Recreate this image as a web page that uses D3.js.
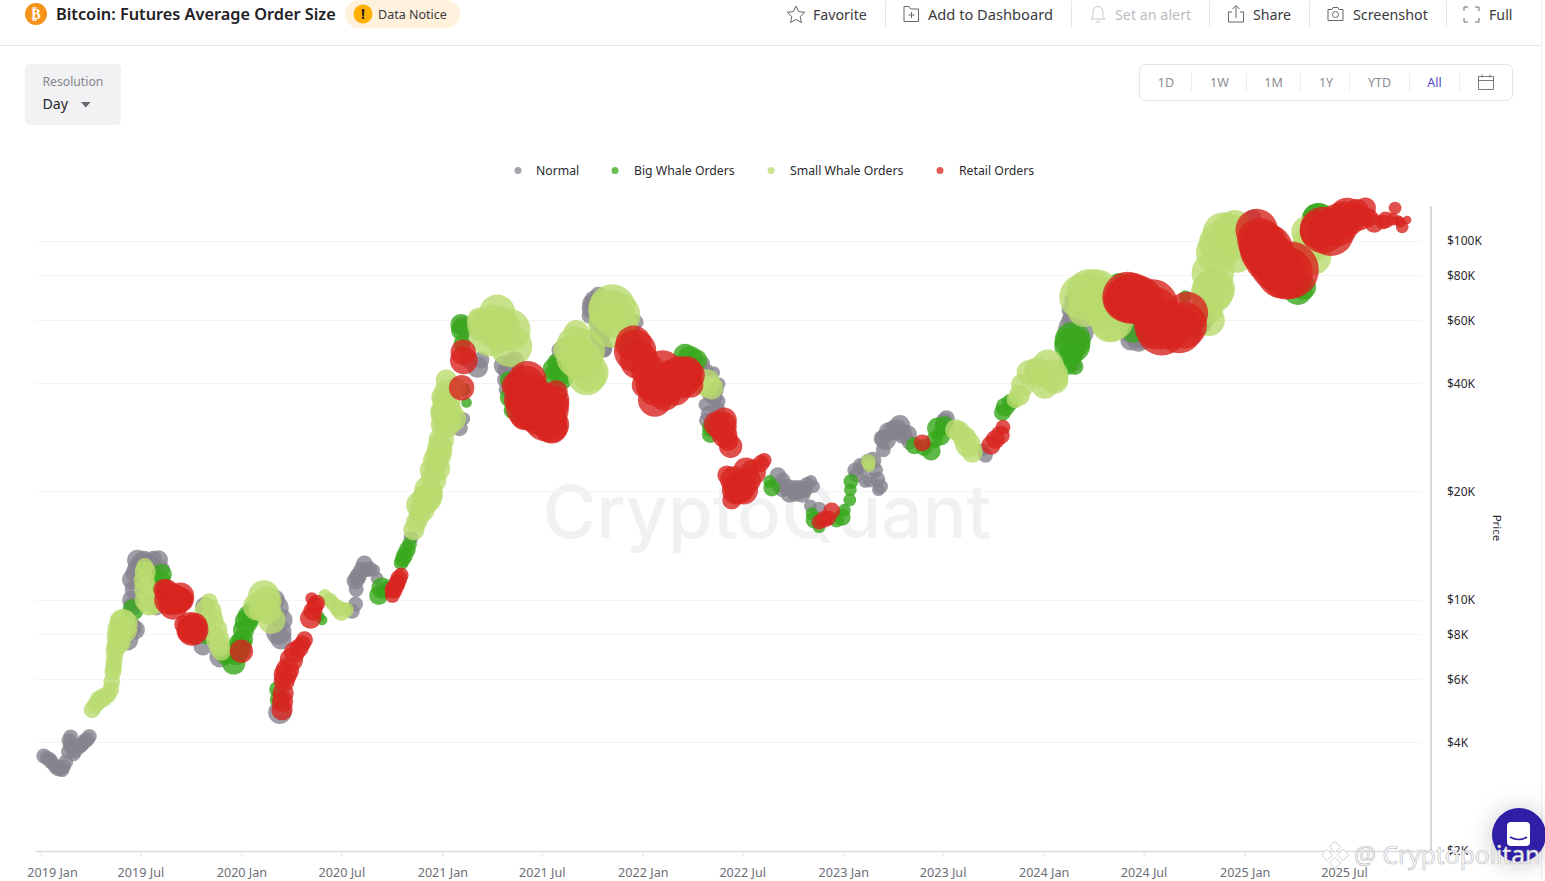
<!DOCTYPE html>
<html>
<head>
<meta charset="utf-8">
<title>Bitcoin: Futures Average Order Size</title>
<script src="https://cdn.jsdelivr.net/npm/d3@7"></script>
<style>
  html, body { margin: 0; padding: 0; background: #fff; overflow: hidden; }
  svg { display: block; font-family: "Noto Sans", sans-serif; }
</style>
</head>
<body>
<div id="chart"></div>
<script>
// rows are [date, price in USD, average order size]
var normalOrders = [
  ["2019-01-06",3680,70],["2019-01-12",3630,70],["2019-01-17",3590,70],["2019-01-20",3540,70],["2019-01-27",3440,70],["2019-02-01",3390,70],["2019-02-05",3400,70],["2019-02-08",3370,70],["2019-02-11",3440,70],["2019-02-15",3540,70],
  ["2019-02-20",3780,70],["2019-02-21",4060,70],["2019-02-23",3950,70],["2019-02-24",4160,70],["2019-02-26",3900,70],["2019-03-01",3730,70],["2019-03-04",3800,70],["2019-03-12",3900,70],["2019-03-15",3950,70],["2019-03-19",4000,70],["2019-03-22",4060,70],["2019-03-26",4080,70],["2019-03-30",4170,70],
  ["2019-06-08",7750,100],["2019-06-14",8380,100],["2019-06-15",10000,90],["2019-06-17",11400,100],["2019-06-18",9630,90],["2019-06-20",10700,90],["2019-06-21",11900,90],["2019-06-22",8260,90],["2019-06-25",12300,90],["2019-06-26",12900,100],
  ["2019-07-02",12750,90],["2019-07-08",13000,80],["2019-07-12",12300,80],["2019-07-16",12800,80],["2019-07-21",9850,80],["2019-07-24",12500,80],["2019-07-25",13000,80],["2019-07-30",9500,70],["2019-08-03",12950,90],["2019-08-08",12200,80],
  ["2019-10-23",7450,90],["2019-10-26",9600,90],["2019-11-23",6950,100],["2019-12-02",7100,80],
  ["2020-03-01",10000,100],["2020-03-04",9500,120],["2020-03-09",8150,120],["2020-03-11",4870,110],["2020-03-12",5250,80],["2020-03-13",7800,100],["2020-03-15",8800,100],
  ["2020-07-21",9300,70],["2020-07-26",11300,80],["2020-07-27",9750,70],["2020-07-28",10700,70],["2020-07-30",11500,80],["2020-08-01",11700,80],["2020-08-07",12100,80],["2020-08-12",12600,80],["2020-08-16",12150,70],["2020-08-22",12200,70],
  ["2020-08-29",12100,60],["2020-09-04",11500,60],["2020-09-11",10700,60],["2020-11-05",14900,70],
  ["2021-02-01",30200,80],["2021-02-08",57700,100],["2021-02-09",32000,60],["2021-02-17",46600,80],["2021-03-06",44500,100],["2021-03-12",46600,80],["2021-04-24",45000,100],["2021-04-25",38500,60],["2021-04-26",41000,80],
  ["2021-05-01",43700,100],["2021-05-07",45000,100],["2021-05-11",46000,100],["2021-05-12",42000,80],["2021-05-15",43700,80],["2021-07-28",47000,60],["2021-08-01",49700,70],["2021-08-10",51500,60],
  ["2021-09-27",62000,80],["2021-09-30",67000,90],["2021-10-01",65000,100],["2021-10-04",68500,90],["2021-10-10",64200,90],["2021-10-12",70600,80],["2021-10-13",60200,100],["2021-10-15",55000,100],["2021-10-17",54500,90],["2021-10-19",50700,100],["2021-10-23",49700,70],
  ["2021-12-15",56500,60],["2021-12-20",59400,70],["2022-04-20",45600,70],["2022-04-24",35000,60],["2022-04-27",31700,70],["2022-04-28",43700,60],["2022-05-02",33000,80],["2022-05-03",37200,70],["2022-05-10",43000,60],["2022-05-11",36700,80],["2022-05-15",38500,70],["2022-05-16",33800,80],["2022-05-18",35700,70],["2022-05-20",40000,60],
  ["2022-09-04",22200,80],["2022-09-05",20900,70],["2022-09-12",20300,70],["2022-09-13",21600,70],["2022-09-21",20600,80],["2022-09-25",19700,80],["2022-10-04",20300,90],["2022-10-05",19700,70],["2022-10-13",20300,90],["2022-10-18",19700,80],["2022-10-22",20300,80],["2022-10-27",21000,70],["2022-11-02",18300,60],["2022-11-03",21400,60],["2022-11-08",20700,60],["2022-11-18",17900,70],
  ["2023-01-22",23000,70],["2023-01-25",22300,70],["2023-02-01",23700,70],["2023-02-04",23300,70],["2023-02-10",21400,60],["2023-02-16",24200,80],["2023-02-19",21600,70],["2023-02-24",24500,80],["2023-03-01",23000,70],["2023-03-05",21700,70],["2023-03-06",20300,60],["2023-03-10",20700,70],
  ["2023-03-13",28200,80],["2023-03-15",26200,70],["2023-03-19",28000,100],["2023-03-24",29400,90],["2023-04-02",29800,90],["2023-04-09",29800,100],["2023-04-14",30600,100],["2023-04-20",28900,90],["2023-04-28",28900,90],["2023-05-01",27500,70],["2023-07-04",31500,80],["2023-07-08",32000,80],["2023-07-12",30300,60],
  ["2023-09-12",26200,60],["2023-09-17",25300,70],
  ["2024-02-18",64200,80],["2024-02-22",60200,100],["2024-02-23",68500,80],["2024-02-26",49700,100],["2024-02-27",45200,60],["2024-02-28",69700,80],["2024-02-29",56500,170],
  ["2024-06-08",53000,100],["2024-06-22",53000,110],["2024-06-23",58000,200],["2024-06-30",56500,180],["2024-07-10",58200,200],["2024-08-20",56500,140],["2024-10-02",58200,120],["2024-10-10",59300,120],["2024-10-20",61000,100],
  ["2025-01-16",116000,80]
];
var bigWhaleOrders = [
  ["2019-06-18",9400,100],["2019-08-06",11300,100],["2019-08-08",11800,100],["2019-08-10",10700,100],["2019-08-18",10000,80],
  ["2019-10-26",7900,70],["2019-12-03",6950,80],["2019-12-18",6680,110],["2019-12-22",7100,110],["2019-12-28",7270,110],["2019-12-29",7500,110],
  ["2020-01-03",7750,100],["2020-01-05",8260,100],["2020-01-10",8700,110],["2020-01-15",9000,110],["2020-01-20",9350,90],
  ["2020-03-07",5630,80],["2020-03-10",5280,90],["2020-05-22",9000,50],["2020-05-27",8800,50],
  ["2020-09-07",10300,90],["2020-09-13",10800,100],["2020-09-22",10700,80],
  ["2020-10-18",12700,70],["2020-10-21",13000,75],["2020-10-24",13300,80],["2020-10-29",13800,80],["2020-11-02",14300,70],
  ["2021-02-04",58500,100],["2021-02-05",56500,100],["2021-02-06",51900,80],["2021-02-10",38500,60],["2021-02-14",35500,50],
  ["2021-05-01",41000,80],["2021-05-05",36700,100],["2021-05-08",33800,80],
  ["2021-07-22",44000,100],["2021-07-26",45900,80],["2021-08-01",42000,140],["2021-08-05",43000,120],
  ["2021-12-10",51800,120],["2021-12-12",49700,100],["2022-03-19",48000,110],["2022-03-28",47000,120],["2022-04-09",46600,100],
  ["2022-05-04",28900,80],["2022-05-06",30200,90],["2022-08-20",21400,60],["2022-08-24",20500,80],
  ["2022-11-05",17400,60],["2022-11-09",16700,80],["2022-11-18",16000,60],["2022-12-20",16700,70],["2022-12-30",17000,80],["2023-01-03",17800,60],["2023-01-13",19000,60],["2023-01-14",20300,60],["2023-01-15",21400,70],
  ["2023-05-10",26900,80],["2023-05-28",26600,80],["2023-06-10",26000,90],["2023-06-16",27900,80],["2023-06-22",30100,100],["2023-06-28",28700,90],["2023-07-04",30600,90],
  ["2023-10-18",33300,80],["2023-10-23",34500,90],["2023-11-01",35500,80],
  ["2024-02-14",45000,90],["2024-02-20",48100,110],["2024-02-22",51300,170],["2024-02-23",53000,170],["2024-02-27",44700,80],
  ["2024-05-18",74500,130],["2024-06-13",56500,120],["2024-09-15",70000,60],
  ["2025-04-08",73000,140],["2025-04-18",74500,120],["2025-05-14",115000,150],["2025-05-16",114500,160]
];
var smallWhaleOrders = [
  ["2019-04-04",4950,80],["2019-04-10",5100,80],["2019-04-17",5270,90],["2019-04-24",5350,90],["2019-05-03",5450,80],["2019-05-08",5630,80],
  ["2019-05-10",5930,80],["2019-05-12",6300,80],["2019-05-13",6500,80],["2019-05-14",6730,80],["2019-05-15",7000,80],["2019-05-16",7270,90],["2019-05-20",7500,100],["2019-05-22",7900,110],
  ["2019-05-25",8260,120],["2019-05-27",7600,90],["2019-05-29",8700,120],["2019-06-01",8600,130],["2019-06-02",8260,120],
  ["2019-07-08",11350,100],["2019-07-09",12400,80],["2019-07-10",12000,100],["2019-07-11",10700,110],["2019-07-12",10000,110],["2019-07-16",9700,100],["2019-07-25",9600,80],
  ["2019-11-01",9250,130],["2019-11-03",9900,80],["2019-11-06",8800,120],["2019-11-13",8260,120],["2019-11-19",7750,110],["2019-11-22",7450,100],["2019-11-25",7200,90],
  ["2020-01-29",9600,130],["2020-02-08",9500,130],["2020-02-11",10250,150],["2020-02-16",9900,140],["2020-02-19",9300,120],["2020-02-25",8800,130],
  ["2020-06-01",10300,60],["2020-06-10",10000,70],["2020-06-15",9800,70],["2020-06-24",9500,80],["2020-07-01",9300,90],["2020-07-10",9400,70],
  ["2020-11-10",15700,100],["2020-11-15",16500,100],["2020-11-20",17200,100],["2020-11-21",18400,130],["2020-11-25",17900,120],["2020-12-01",19000,130],["2020-12-04",19200,140],["2020-12-06",20300,130],["2020-12-10",19700,120],
  ["2020-12-14",23000,120],["2020-12-16",21600,120],["2020-12-20",24500,120],["2020-12-23",23200,120],["2020-12-25",25300,120],["2020-12-27",26200,120],["2020-12-28",27000,110],["2020-12-30",27900,120],["2021-01-01",30800,110],["2021-01-02",36700,110],["2021-01-03",33800,120],["2021-01-05",36100,110],
  ["2021-01-04",33000,130],["2021-01-06",38500,100],["2021-01-07",33300,130],["2021-01-08",41000,100],["2021-01-09",30700,120],["2021-01-12",31700,120],["2021-01-13",36100,110],["2021-01-15",33800,110],["2021-01-21",32000,120],["2021-01-25",39000,100],
  ["2021-03-10",60200,120],["2021-03-18",58200,160],["2021-03-29",54700,200],["2021-04-06",58000,200],["2021-04-11",63200,170],["2021-04-16",56500,200],["2021-05-03",56500,200],["2021-05-06",51000,200],
  ["2021-08-14",49700,120],["2021-08-29",51800,160],["2021-09-02",55500,120],["2021-09-04",47500,200],["2021-09-12",46600,200],["2021-09-16",49700,200],["2021-09-21",42000,180],["2021-09-26",43000,180],
  ["2021-11-01",64200,200],["2021-11-06",65300,220],["2021-11-07",59000,230],["2021-11-15",62000,220],
  ["2022-04-27",40200,130],["2022-05-06",39000,110],
  ["2023-02-16",24300,70],["2023-02-17",23700,60],
  ["2023-07-25",29800,100],["2023-08-01",29400,100],["2023-08-10",28300,110],["2023-08-16",27100,120],["2023-08-24",25800,100],
  ["2023-11-10",36100,80],["2023-11-18",37200,100],["2023-11-24",39700,110],["2023-12-06",43000,120],["2023-12-20",43700,120],["2023-12-24",42600,130],["2024-01-03",39700,130],["2024-01-09",45000,150],["2024-01-17",42300,150],["2024-01-21",41000,130],
  ["2024-03-12",69800,220],["2024-03-15",64200,160],["2024-03-25",72000,220],["2024-04-06",71800,220],["2024-04-12",68500,220],["2024-04-21",64200,200],["2024-05-05",60200,200],["2024-05-01",59000,180],
  ["2024-10-25",65000,150],["2024-10-28",60200,150],["2024-11-03",72000,200],["2024-11-04",81400,200],["2024-11-06",73500,200],["2024-11-12",92700,200],["2024-11-17",98500,200],["2024-11-24",105000,200],
  ["2024-12-04",105700,180],["2024-12-14",109500,160],["2024-12-18",90300,150],["2024-12-26",100600,180],
  ["2025-04-25",106000,150],["2025-05-01",97500,170],["2025-05-06",90300,170],["2025-05-10",105000,140]
];
var retailOrders = [
  ["2019-08-13",10700,100],["2019-08-18",10600,110],["2019-08-22",10000,140],["2019-08-25",10250,130],["2019-08-30",9700,140],["2019-09-02",10000,140],["2019-09-08",10000,130],["2019-09-12",10250,130],["2019-09-15",10000,110],
  ["2019-09-18",8550,90],["2019-09-26",8200,110],["2019-09-30",8530,120],["2019-10-03",8200,140],["2019-10-06",8260,140],["2019-10-08",8500,120],
  ["2020-01-01",7200,110],
  ["2020-03-15",4950,100],["2020-03-16",5220,100],["2020-03-17",5500,100],["2020-03-19",5950,100],["2020-03-21",6200,110],["2020-03-25",6400,110],["2020-04-01",6820,110],["2020-04-07",7150,100],["2020-04-15",7350,90],["2020-04-21",7550,80],["2020-04-25",7750,80],
  ["2020-05-06",8900,100],["2020-05-08",10100,60],["2020-05-10",9300,90],["2020-05-14",9650,80],["2020-05-17",9800,80],
  ["2020-10-02",10300,70],["2020-10-03",10700,80],["2020-10-05",10650,80],["2020-10-09",11000,80],["2020-10-11",11200,80],["2020-10-14",11500,80],["2020-10-18",11750,70],
  ["2021-02-05",39000,120],["2021-02-08",49000,120],["2021-02-09",46500,130],
  ["2021-05-12",39500,120],["2021-05-18",36100,130],["2021-05-25",37200,140],["2021-05-30",32500,130],["2021-06-01",39300,200],["2021-06-05",41000,180],["2021-06-07",37200,210],["2021-06-08",34500,220],["2021-06-15",34000,200],["2021-06-25",33000,200],
  ["2021-07-03",36100,170],["2021-07-08",31700,200],["2021-07-18",30800,170],["2021-07-19",30200,150],["2021-07-23",33800,140],["2021-07-26",36100,130],["2021-07-27",38000,110],["2021-08-01",35000,100],
  ["2021-12-15",51800,170],["2021-12-18",49400,200],["2021-12-25",46500,180],["2022-01-04",39700,120],["2022-01-10",43700,160],["2022-01-17",39700,150],["2022-01-22",38500,150],["2022-01-23",36100,160],
  ["2022-02-06",43300,200],["2022-02-09",39700,180],["2022-02-10",37300,150],["2022-02-22",41300,180],["2022-03-01",38500,150],["2022-03-10",41700,200],["2022-03-22",43100,150],["2022-03-28",42300,140],["2022-03-29",39700,120],
  ["2022-05-15",30900,120],["2022-05-25",30500,140],["2022-05-29",31700,120],["2022-05-30",28800,120],["2022-06-05",27800,100],["2022-06-10",26800,110],
  ["2022-06-03",22300,90],["2022-06-12",19000,90],["2022-06-16",21600,130],["2022-06-21",20300,140],["2022-06-26",20600,150],["2022-07-03",20300,140],["2022-07-08",23000,120],["2022-07-12",21600,120],["2022-07-21",22700,120],["2022-08-04",24000,80],["2022-08-10",24500,70],
  ["2022-11-18",16500,70],["2022-11-27",16800,80],["2022-12-05",16900,70],["2022-12-11",17700,80],
  ["2023-05-25",27400,80],
  ["2023-09-27",27000,90],["2023-10-05",28000,90],["2023-10-14",28800,90],["2023-10-19",30300,70],
  ["2024-05-28",69000,200],["2024-06-02",69700,240],["2024-06-10",69200,240],["2024-06-22",68500,230],["2024-07-17",66500,240],["2024-07-20",64200,220],["2024-07-28",58300,230],
  ["2024-08-03",56500,240],["2024-08-16",58300,220],["2024-09-04",56500,220],["2024-09-12",58300,220],["2024-09-18",63000,200],
  ["2025-01-23",107300,200],["2025-01-28",100600,210],["2025-02-04",97000,230],["2025-02-10",94400,250],["2025-02-16",89800,240],["2025-02-27",85500,240],["2025-03-09",81000,230],["2025-03-18",81500,250],["2025-03-25",83000,270],
  ["2025-05-16",107300,180],["2025-05-24",107300,220],["2025-06-07",105500,220],["2025-06-19",110800,200],["2025-07-01",115700,160],["2025-07-07",116700,180],["2025-07-24",120700,120],["2025-07-29",116000,120],
  ["2025-08-09",123500,100],["2025-08-15",116000,90],["2025-08-25",112000,90],["2025-09-10",113000,70],["2025-09-15",114500,80],["2025-09-28",115000,60],["2025-10-02",123500,60],["2025-10-08",114000,50],["2025-10-12",113000,50],["2025-10-15",109500,60],["2025-10-24",114500,40]
];

var seriesNames = ["Normal", "Big Whale Orders", "Small Whale Orders", "Retail Orders"];
var seriesColors = ["#86838f", "#37a81c", "#b9db6e", "#d8241f"];
var priceTicks = [2000, 4000, 6000, 8000, 10000, 20000, 40000, 60000, 80000, 100000];
var timeTicks = ["2019-01-01","2019-07-01","2020-01-01","2020-07-01","2021-01-01","2021-07-01","2022-01-01","2022-07-01","2023-01-01","2023-07-01","2024-01-01","2024-07-01","2025-01-01","2025-07-01"];
var rangeButtons = ["1D", "1W", "1M", "1Y", "YTD", "All"];

var parseDate = d3.utcParse("%Y-%m-%d");
var x = d3.scaleUtc().domain([parseDate("2019-01-01"), parseDate("2025-07-01")]).range([41, 1344]);
var y = d3.scaleLog().domain([2000, 100000]).range([851, 241]);
var radius = d3.scaleLinear().domain([0, 100]).range([0, 10.6]);

var svg = d3.select("#chart").append("svg").attr("width", 1545).attr("height", 881);

function label(text, px, py, size, color, weight) {
  return svg.append("text").attr("x", px).attr("y", py).attr("font-size", size)
    .attr("fill", color).attr("font-weight", weight || 400).text(text);
}

// header
svg.append("line").attr("x1", 0).attr("x2", 1541).attr("y1", 45.5).attr("y2", 45.5).attr("stroke", "#e6e6e8");
svg.append("line").attr("x1", 1541.5).attr("x2", 1541.5).attr("y1", 0).attr("y2", 881).attr("stroke", "#ececee");
svg.append("circle").attr("cx", 36).attr("cy", 14).attr("r", 11).attr("fill", "#f7931a");
label("₿", 36, 19, 14, "#fff", 700).attr("text-anchor", "middle").attr("font-family", "DejaVu Sans");
label("Bitcoin: Futures Average Order Size", 56, 20, 16.3, "#1f2025", 600);
svg.append("rect").attr("x", 345).attr("y", 0).attr("width", 115).attr("height", 28).attr("rx", 14).attr("fill", "#fff1dc");
svg.append("circle").attr("cx", 363).attr("cy", 14).attr("r", 9.5).attr("fill", "#ffb000");
label("!", 363, 19, 14, "#222", 700).attr("text-anchor", "middle");
label("Data Notice", 378, 19, 12.5, "#3a3a40");

var headerItems = [
  ["Favorite", 813, "#3a3a40", 14.2], ["Add to Dashboard", 928, "#3a3a40", 14.65], ["Set an alert", 1115, "#bdbdc3", 14.3],
  ["Share", 1253, "#3a3a40", 14.2], ["Screenshot", 1353, "#3a3a40", 14.3], ["Full", 1489, "#3a3a40", 14.2]
];
headerItems.forEach(function(d) { label(d[0], d[1], 20, d[3], d[2]); });
[885, 1071, 1209, 1309, 1446].forEach(function(px) {
  svg.append("line").attr("x1", px + 0.5).attr("x2", px + 0.5).attr("y1", 1).attr("y2", 27).attr("stroke", "#e6e6ea");
});

var icons = svg.append("g").attr("fill", "none").attr("stroke", "#66666e").attr("stroke-width", 1);
icons.append("path").attr("d", "M796 6l2.6 5.6 6.1.7-4.5 4.2 1.2 6-5.4-3-5.4 3 1.2-6-4.5-4.2 6.1-.7z");
icons.append("path").attr("d", "M904 9.5v-3h5l1.5 2.500h8v12.500h-14.500zM911.500 12v6M908.500 15h6");
icons.append("path").attr("stroke", "#c4c4ca").attr("d", "M1098 6.500a5 5 0 0 1 5 5v5l2 2.500h-14l2-2.500v-5a5 5 0 0 1 5-5zM1096 22h4");
icons.append("path").attr("d", "M1232 12h-3.500v10h15v-10h-3.500M1236 18v-12M1232.500 9l3.500-3.500 3.500 3.500");
icons.append("path").attr("d", "M1328 9.500h4l1-2h5l1 2h4v11h-15z");
icons.append("circle").attr("cx", 1335.500).attr("cy", 14.500).attr("r", 3);
icons.append("path").attr("d", "M1464 11v-4h4M1475 7h4v4M1479 18v4h-4M1468 22h-4v-4");

// resolution box
svg.append("rect").attr("x", 25).attr("y", 64).attr("width", 96).attr("height", 61).attr("rx", 5).attr("fill", "#f2f2f4");
label("Resolution", 42.5, 86, 12.2, "#84848c");
label("Day", 42.5, 109, 14.2, "#24242a");
svg.append("path").attr("d", "M81 102h9.500l-4.750 5.500z").attr("fill", "#66666e");

// range buttons
svg.append("rect").attr("x", 1139.500).attr("y", 64.500).attr("width", 373).attr("height", 36).attr("rx", 6).attr("fill", "#fff").attr("stroke", "#e4e4ea");
var buttonCentres = [1166, 1219.500, 1273.500, 1326, 1379.500, 1434.500];
rangeButtons.forEach(function(d, i) {
  label(d, buttonCentres[i], 87, 12.5, d === "All" ? "#5546c4" : "#8b8b93").attr("text-anchor", "middle");
});
[1191, 1246, 1300, 1349, 1409, 1459].forEach(function(px) {
  svg.append("line").attr("x1", px + 0.5).attr("x2", px + 0.5).attr("y1", 73).attr("y2", 91).attr("stroke", "#ececf0");
});
svg.append("path").attr("fill", "none").attr("stroke", "#77777f")
  .attr("d", "M1478.500 76.500h15v13h-15zM1478.500 80.500h15M1482 74.500v3M1490 74.500v3");

// legend
var legendDots = [518, 615, 771, 940];
var legendLabels = [536, 634, 790, 959];
seriesNames.forEach(function(name, i) {
  svg.append("circle").attr("cx", legendDots[i]).attr("cy", 170.500).attr("r", 3.500).attr("fill", seriesColors[i]).attr("fill-opacity", 0.75);
  label(name, legendLabels[i], 175, 12.25, "#2a2a30");
});

// watermark behind the marks
label("CryptoQuant", 767, 538, 73, "#f1f1f3", 500).attr("text-anchor", "middle").attr("font-family", "Inter");

// grid
svg.append("g").selectAll("line").data(priceTicks.slice(1)).enter().append("line")
  .attr("x1", 36).attr("x2", 1421).attr("y1", function(d) { return Math.floor(y(d)) + 0.5; }).attr("y2", function(d) { return Math.floor(y(d)) + 0.5; })
  .attr("stroke", "#f4f4f6");

// axes
var xAxis = d3.axisBottom(x)
  .tickValues(timeTicks.map(parseDate))
  .tickFormat(d3.utcFormat("%Y %b"))
  .tickSize(6).tickPadding(11);
var xAxisG = svg.append("g").attr("transform", "translate(0,851)").call(xAxis);
xAxisG.select(".domain").attr("d", "M36,0.500H1431").attr("stroke", "#dcdce2").attr("stroke-width", 1.500);
xAxisG.selectAll(".tick line").attr("stroke", "#e2e2e6");
xAxisG.selectAll("text").attr("font-size", 12.6).attr("font-family", "Noto Sans").attr("fill", "#6e6e76");
xAxisG.select(".tick text").attr("dx", 11);

var yAxis = d3.axisRight(y)
  .tickValues(priceTicks)
  .tickFormat(function(d) { return "$" + d / 1000 + "K"; })
  .tickSize(0).tickPadding(16);
var yAxisG = svg.append("g").attr("transform", "translate(1431,0)").call(yAxis);
yAxisG.select(".domain").attr("d", "M0,206V851").attr("stroke", "#d8d8e0").attr("stroke-width", 2);
yAxisG.selectAll("text").attr("font-size", 12).attr("font-family", "Noto Sans").attr("fill", "#2a2a30");

label("Price", 0, 0, 11.5, "#2a2a30").attr("text-anchor", "middle").attr("transform", "translate(1493,528) rotate(90)");

// bubbles, retail on top
[normalOrders, bigWhaleOrders, smallWhaleOrders, retailOrders].forEach(function(rows, i) {
  svg.append("g").attr("class", "series").selectAll("circle").data(rows).enter().append("circle")
    .attr("cx", function(d) { return x(parseDate(d[0])); })
    .attr("cy", function(d) { return y(d[1]); })
    .attr("r", function(d) { return radius(d[2]); })
    .attr("fill", seriesColors[i])
    .attr("fill-opacity", 0.8);
});

// chat button
svg.append("circle").attr("cx", 1519).attr("cy", 835).attr("r", 27).attr("fill", "#2f1fa6")
  .style("filter", "drop-shadow(0 2px 12px rgba(0,0,0,.22))");
svg.append("rect").attr("x", 1507).attr("y", 822).attr("width", 23).attr("height", 24).attr("rx", 4).attr("fill", "#fff");
svg.append("path").attr("d", "M1510 837q8.500 5 17 0").attr("fill", "none").attr("stroke", "#2f1fa6").attr("stroke-width", 1.600);

// source watermark on top of everything
var stamp = svg.append("g").attr("fill", "#fff").attr("stroke", "#bdbdc1").attr("stroke-width", 0.7);
[[1335, 847], [1327, 855], [1343, 855], [1335, 863]].forEach(function(d) {
  stamp.append("rect").attr("x", d[0] - 4).attr("y", d[1] - 4).attr("width", 8).attr("height", 8)
    .attr("transform", "rotate(45 " + d[0] + " " + d[1] + ")");
});
stamp.append("text").attr("x", 1354).attr("y", 864).attr("font-size", 24.6).attr("font-family", "Noto Sans").text("@ Cryptopolitan");
</script>
</body>
</html>
